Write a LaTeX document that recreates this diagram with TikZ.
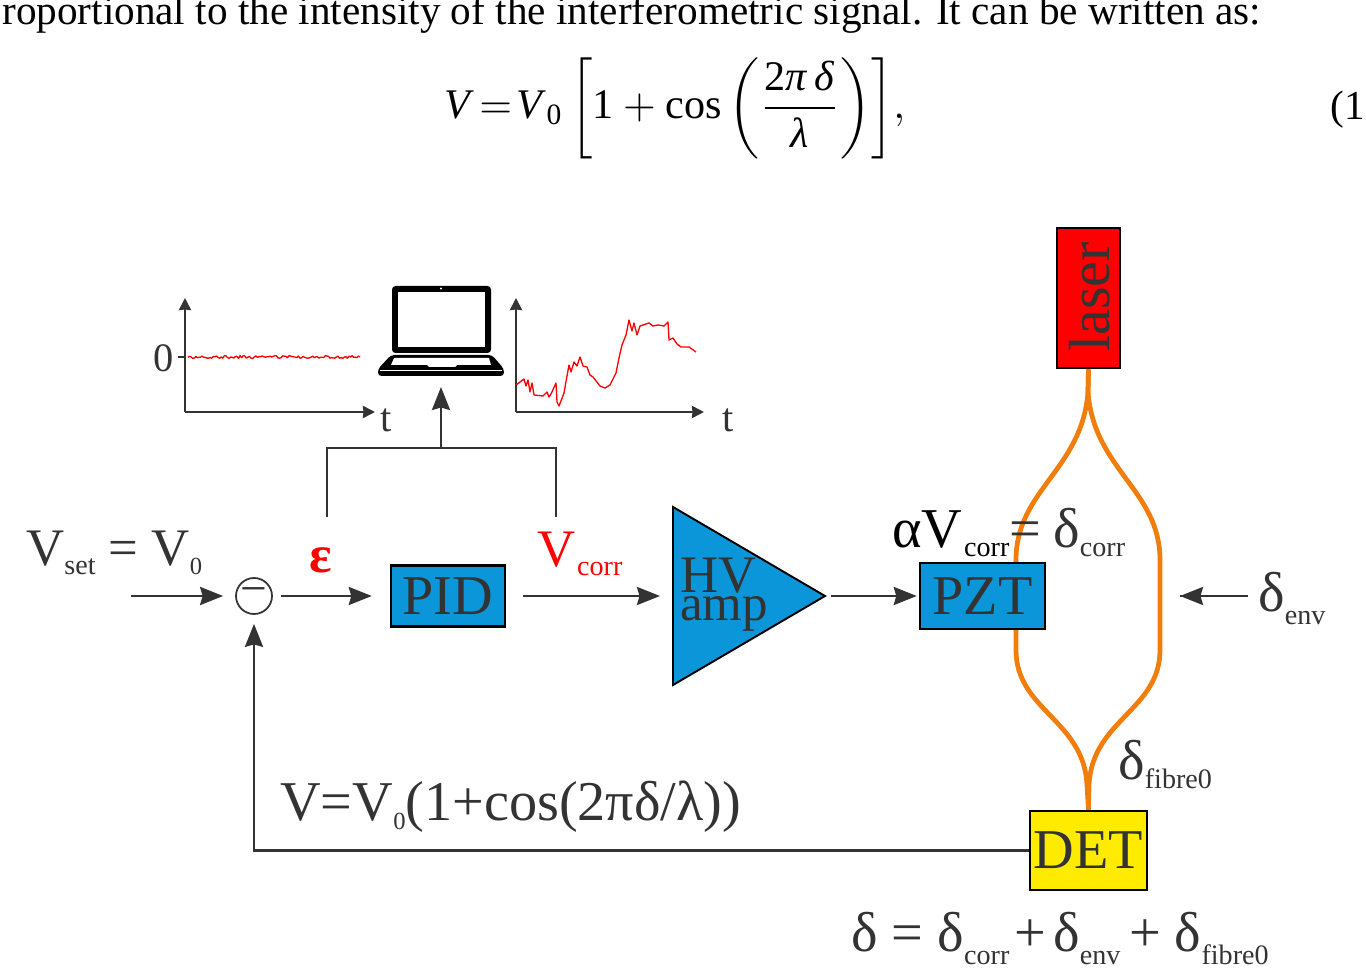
\documentclass[tikz,border=0pt]{standalone}
\usepackage{fontspec}
\setmainfont{Liberation Serif}
\usepackage{amsmath}
\usepackage{tikz}
\usetikzlibrary{arrows.meta}
\usetikzlibrary{backgrounds}
\definecolor{inkgray}{HTML}{333333}
\definecolor{boxblue}{HTML}{0A96D8}
\definecolor{fibreorange}{HTML}{F07D0C}
\definecolor{detyellow}{HTML}{FFEB00}
\newcommand{\lowtxt}[1]{\raisebox{-5.6pt}{\fontsize{16}{16}\selectfont #1}}
\newcommand{\dropsub}[1]{\raisebox{-7.6pt}{\fontsize{16}{16}\selectfont #1}}
\newcommand{\lowzero}[1]{\raisebox{-5.6pt}{\fontsize{14}{14}\selectfont #1}}
\newcommand{\upmb}[1]{\mbox{#1}}
\tikzset{
  lbl/.style={inner sep=0pt, text=inkgray, font=\fontsize{30}{30}\selectfont},
  biglbl/.style={lbl, font=\fontsize{32}{32}\selectfont},
  smalllbl/.style={inner sep=0pt, text=inkgray, font=\fontsize{23}{23}\selectfont},
  box/.style={draw=black, line width=1.4pt, inner sep=0pt, text=inkgray,
    font=\fontsize{32}{32}\selectfont},
  conn/.style={draw=inkgray, line width=1.5pt},
  arrow/.style={conn, -{Stealth[length=.46cm, width=.36cm, inset=.05cm]}},
  axis/.style={conn, -{Stealth[length=.24cm, width=.24cm, inset=.01cm]}},
  trace/.style={draw=red, line width=.75pt, line join=round},
  fibre/.style={draw=fibreorange, line width=2.7pt},
}
\begin{document}
\begin{tikzpicture}[x=.02cm, y=-.02cm]
  \useasboundingbox (0,0) rectangle (1366,976);

  % text above the figure
  \node[inner sep=0pt, anchor=base west, font=\fontsize{23.45}{26}\selectfont, text=black] (bodyline) at (2,25)
  {roportional to the intensity of the interferometric signal. It can be written as:};
  \node[inner sep=0pt, scale=2.4] (eqn) at (675,108)
  {$\displaystyle \upmb{\textit{V}} \! = \! \upmb{\textit{V}}_{\upmb{\scriptsize 0}} \left[ \upmb{1} + \upmb{cos} \left( \frac{\upmb{2\textit{π}\,\textit{δ}}}{\upmb{\textit{λ}}} \right) \right]\!,$};
  \node[inner sep=0pt, anchor=base west, font=\fontsize{23.45}{26}\selectfont, text=black] (eqnum) at (1330,120) {(1};

  % blocks
  \node[draw=inkgray, circle, line width=1pt, minimum size=.72cm, inner sep=0pt, text=inkgray] (sum) at (254,596)
  {\fontsize{27}{27}\selectfont\raisebox{-2pt}{−}};
  \node[box, fill=boxblue, minimum width=2.28cm, minimum height=1.22cm] (pid) at (448,596) {PID};
  \draw[box, line width=1.1pt, fill=boxblue] (673,507) -- (825,596) -- (673,685) -- cycle;
  \coordinate (ampin) at (673,596);
  \coordinate (ampout) at (825,596);
  \node[lbl, anchor=base west] (amphv) at (680,592) {HV};
  \node[lbl, anchor=base west, font=\fontsize{29}{29}\selectfont] (amptxt) at (680,620) {amp};
  \node[box, fill=boxblue, minimum width=2.5cm, minimum height=1.32cm] (pzt) at (982.5,596) {PZT};
  \node[box, fill=red, minimum width=1.26cm, minimum height=2.8cm] (laser) at (1088.5,298) {};
  \node[lbl, rotate=90, font=\fontsize{33}{33}\selectfont] (lasertxt) at (1090,297) {laser};
  \node[box, fill=detyellow, draw=black, line width=1pt, minimum width=2.34cm, minimum height=1.58cm] (det) at (1088.5,850.5) {DET};

  % fibre arms
  \begin{pgfonlayer}{background}
    \draw[fibre] (laser.south) -- (1088,392) .. controls (1082,470) and (1016,490) .. (1016,560)
    -- (1016,650) .. controls (1016,710) and (1084,720) .. (1087,785) -- (det.north);
    \draw[fibre] (laser.south) -- (1088,392) .. controls (1094,470) and (1160,490) .. (1160,560)
    -- (1160,650) .. controls (1160,710) and (1092,720) .. (1089,785) -- (det.north);
  \end{pgfonlayer}

  % signal path
  \coordinate (setin) at (131,596);
  \coordinate (envin) at (1248,596);
  \draw[arrow, shorten >=.24cm] (setin) -- (sum.west);
  \draw[arrow, shorten <=.16cm, shorten >=.36cm] (sum) -- (pid);
  \draw[arrow, shorten <=.34cm, shorten >=.26cm] (pid) -- (ampin);
  \draw[arrow, shorten <=.12cm, shorten >=.04cm] (ampout) -- (pzt);
  \draw[arrow, shorten >=1.36cm] (envin) -- ++(-68,0) -- ++(-68,0);
  \draw[arrow, shorten >=.18cm] (det.west) -| (sum.south);

  % taps to the computer
  \coordinate (taperr) at (327,517);
  \coordinate (tapcorr) at (556,517);
  \coordinate (tapmid) at (441,448);
  \coordinate (laptop) at (441,387);
  \draw[conn] (taperr) |- (tapmid) -| (tapcorr);
  \draw[arrow] (tapmid) -- (laptop);

  % computer
  \fill[black, rounded corners=2pt] (392,286) rectangle (491,353);
  \fill[white] (398,292) rectangle (485,347);
  \fill[white] (441,288.5) circle (.7pt);
  \fill[black, rounded corners=2pt] (391,355) -- (492,355) -- (504,369) -- (504,376) -- (378,376) -- (378,369) -- cycle;
  \fill[white] (394,358) -- (489,358) -- (491,365) -- (457,365) -- (455,367) -- (429,367) -- (427,365) -- (391,365) -- cycle;
  \draw[white, line width=.3pt] (380,370.5) -- (502,370.5);

  % left plot
  \coordinate (ploto) at (185,412);
  \draw[axis] (ploto) -- (185,298);
  \draw[axis] (ploto) -- (375,412);
  \draw[conn, line width=.7pt] (178,357) -- (185,357);
  \node[smalllbl] (zerotxt) at (164,358) {0};
  \node[smalllbl] (tleft) at (386,420) {t};
  \pgfmathsetseed{7}
  \draw[trace] plot[domain=188:360, samples=110] (\x, {357+1.4*rand});

  % right plot
  \coordinate (plotb) at (516,412);
  \draw[axis] (plotb) -- (516,298);
  \draw[axis] (plotb) -- (704,412);
  \node[smalllbl] (tright) at (728,420) {t};
  \draw[trace] (516,385) -- (524,379) -- (526,386) -- (528,380) -- (530,392) -- (532,383) -- (534,395)
  -- (543,396) -- (547,392) -- (549,397) -- (551,394) -- (556,383) -- (557,402) -- (559,406) -- (564,393)
  -- (567,376) -- (569,365) -- (571,372) -- (574,362) -- (577,366) -- (580,357) -- (583,366) -- (587,367)
  -- (590,375) -- (593,377) -- (600,386) -- (605,388) -- (610,385) -- (616,373) -- (619,358) -- (622,345)
  -- (626,335) -- (629,320) -- (632,331) -- (634,323) -- (637,335) -- (640,326) -- (643,325) -- (649,323)
  -- (653,326) -- (658,325) -- (664,326) -- (668,322) -- (669,340) -- (673,338) -- (677,344) -- (681,347)
  -- (689,347) -- (696,352);

  % labels
  \node[lbl, anchor=base west] (vset) at (26,565) {V\lowtxt{set} = V\lowzero{0}};
  \node[lbl, text=red, font=\fontsize{30}{30}\bfseries\selectfont] (errtxt) at (321,560) {ε};
  \node[lbl, text=red, anchor=base west] (vcorr) at (537,566) {V\kern1pt\lowtxt{corr}};
  \node[biglbl, text=black, anchor=base west] (alphav) at (892,547) {αV\kern1pt\lowtxt{corr}\textcolor{inkgray}{=\kern7pt δ\lowtxt{corr}}};
  \node[biglbl, anchor=base west] (denv) at (1258,611) {δ\dropsub{env}};
  \node[biglbl, anchor=base west] (dfib) at (1118,779) {δ\lowtxt{fibre0}};
  \node[biglbl, anchor=base west] (vform) at (280,820) {V=V\lowzero{0}(1+cos(2πδ/λ))};
  \node[biglbl, anchor=base west] (dsum) at (851,951) {δ = δ\dropsub{corr}\kern3pt+\kern4pt δ\dropsub{env}\kern5pt+\kern8pt δ\dropsub{fibre0}};
\end{tikzpicture}
\end{document}
